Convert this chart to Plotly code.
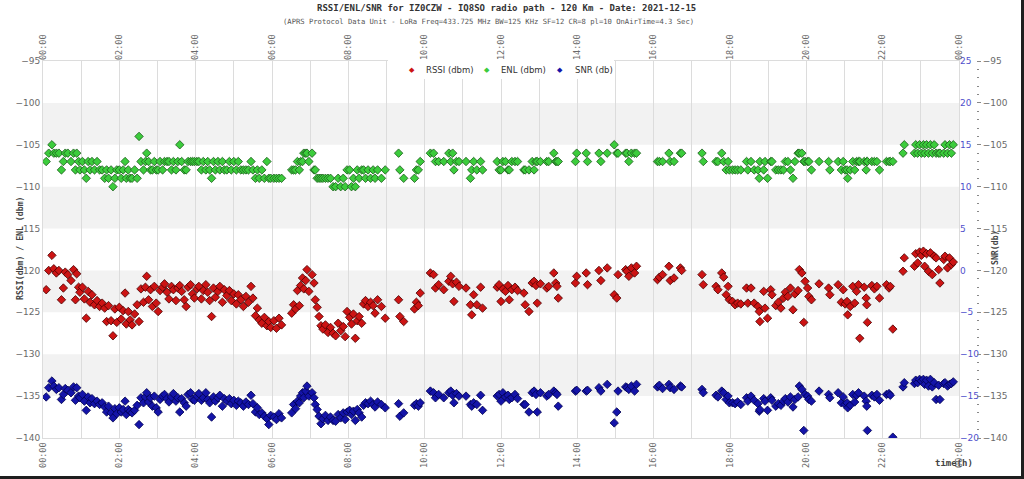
import plotly.graph_objects as go

DATE = "2021-12-15"
NEXT_DATE = "2021-12-16"

# packet reception times (HH:MM) and the three measured quantities per packet
packet_time = [
    "00:05","00:09","00:14","00:17","00:21","00:25","00:29","00:32","00:35","00:39","00:44","00:48","00:51","00:53","00:56","00:58",
    "01:02","01:05","01:08","01:11","01:14","01:17","01:21","01:25","01:29","01:33","01:37","01:40","01:43","01:47","01:50","01:53","01:56",
    "02:00","02:03","02:06","02:09","02:11","02:14","02:17","02:20","02:24","02:28","02:31","02:34","02:38","02:41","02:43","02:46","02:49","02:52","02:55","02:58",
    "03:01","03:04","03:08","03:11","03:15","03:18","03:22","03:25","03:29","03:32","03:35","03:38","03:42","03:45","03:48","03:52","03:55","03:58",
    "04:02","04:05","04:09","04:12","04:16","04:19","04:22","04:25","04:28","04:31","04:35","04:38","04:42","04:45","04:49","04:53","04:56",
    "05:00","05:04","05:07","05:11","05:15","05:19","05:23","05:27","05:30","05:34","05:37","05:40","05:44","05:48","05:52","05:55","05:58",
    "06:03","06:07","06:11","06:15","06:31","06:34","06:37","06:40","06:43","06:45","06:48","06:50","06:53","06:55","06:58",
    "07:03","07:06","07:08","07:11","07:14","07:17","07:20","07:24","07:28","07:32","07:36","07:40","07:44","07:48","07:52","07:55","07:58",
    "08:02","08:05","08:08","08:11","08:14","08:17","08:21","08:24","08:27","08:31","08:35","08:39","08:42","08:46","08:52","08:58",
    "09:19","09:21","09:27","09:44","09:47","09:50","09:53",
    "10:09","10:14","10:17","10:22","10:30","10:38","10:41","10:44","10:46","10:50","10:54",
    "11:05","11:12","11:14","11:17","11:22","11:28","11:31","11:54","11:57",
    "12:00","12:03","12:07","12:11","12:13","12:17","12:22","12:26","12:36","12:38","12:44","12:49","12:52","12:55","12:57",
    "13:02","13:12","13:15","13:23","13:26","13:28","13:30","13:57","13:59",
    "14:14","14:16","14:34","14:37","14:47","14:58",
    "15:02","15:04","15:16","15:18","15:21","15:25","15:30","15:33",
    "16:06","16:09","16:14","16:24","16:26","16:32","16:42","16:44",
    "17:16","17:18","17:38","17:41","17:47","17:50","17:54","17:57","17:59",
    "18:04","18:08","18:12","18:17","18:26","18:28","18:33","18:38","18:44","18:46","18:47","18:53","18:55","18:59",
    "19:04","19:06","19:12","19:16","19:20","19:24","19:27","19:31","19:35","19:39","19:42","19:47","19:49","19:53","19:56","19:58",
    "20:02","20:04","20:08","20:20","20:35","20:37","20:50","20:55","20:58",
    "21:01","21:04","21:05","21:09","21:13","21:16","21:19","21:22","21:24","21:31","21:34","21:35","21:36","21:43","21:47","21:51","21:55",
    "22:06","22:10","22:12","22:16","22:32","22:34","22:50","22:52","22:55","22:58",
    "23:01","23:04","23:06","23:09","23:12","23:15","23:18","23:21","23:24","23:28","23:30","23:36","23:38","23:42","23:45","23:48","23:51",
]

rssi_dbm = [
    -122.3,-120.0,-118.2,-119.8,-120.3,-120.0,-123.5,-122.1,-120.2,-120.5,-121.2,-119.9,-123.5,-120.4,-122.0,-122.6,
    -122.0,-123.4,-125.7,-122.5,-123.8,-122.9,-124.1,-123.6,-124.3,-123.9,-124.5,-126.1,-124.2,-126.0,-127.8,-124.6,-126.2,
    -124.4,-125.8,-124.8,-122.7,-126.4,-124.9,-125.9,-126.5,-125.2,-124.1,-126.1,-122.2,-123.8,-122.0,-120.7,-123.5,-122.3,-124.3,-121.9,-123.9,
    -124.9,-122.4,-122.0,-121.6,-122.6,-123.4,-121.9,-122.3,-123.6,-122.1,-121.8,-122.5,-123.5,-124.3,-122.0,-121.7,-122.8,-123.3,
    -122.2,-121.9,-123.4,-122.4,-121.7,-122.6,-123.6,-125.5,-122.1,-123.2,-122.5,-121.9,-123.8,-122.3,-123.0,-122.4,-123.6,
    -122.8,-124.0,-122.9,-123.5,-124.3,-123.1,-123.8,-121.9,-123.3,-125.4,-124.5,-125.9,-126.3,-125.6,-126.6,-126.1,-126.8,
    -126.0,-126.9,-125.7,-126.5,-125.1,-124.1,-124.6,-122.4,-124.2,-121.8,-120.9,-122.2,-121.2,-119.9,-122.5,
    -120.5,-121.5,-123.5,-124.4,-125.5,-126.6,-127.0,-126.5,-127.4,-126.8,-127.5,-127.8,-126.3,-127.2,-126.7,-127.9,-124.9,
    -125.6,-126.4,-125.2,-128.1,-126.0,-125.5,-126.3,-124.0,-123.6,-124.3,-123.8,-124.2,-125.1,-123.5,-124.3,-125.7,
    -123.5,-125.5,-126.1,-124.6,-123.8,-124.2,-122.7,
    -120.3,-120.5,-122.1,-121.7,-122.3,-121.3,-120.7,-121.6,-123.7,-121.4,-121.9,
    -122.1,-124.1,-125.3,-122.9,-124.1,-122.0,-124.5,-122.0,-121.7,
    -123.7,-122.2,-122.5,-121.8,-123.5,-122.3,-122.0,-122.4,-122.7,-124.1,-124.9,-121.5,-121.3,-121.8,-123.9,
    -121.6,-122.1,-121.9,-120.3,-121.5,-121.9,-123.3,-121.5,-120.7,
    -120.3,-121.7,-120.0,-121.2,-119.7,-122.9,
    -123.3,-120.5,-119.9,-120.1,-120.7,-119.7,-120.3,-119.5,
    -121.1,-120.8,-120.5,-119.5,-121.2,-120.9,-119.7,-120.0,
    -120.5,-121.7,-121.9,-122.3,-120.3,-120.8,-122.9,-121.9,-123.5,
    -123.7,-124.1,-123.9,-124.0,-122.1,-123.9,-122.1,-123.9,-124.3,-124.9,-126.1,-122.5,-124.5,-125.7,
    -122.3,-122.9,-124.2,-123.8,-124.5,-123.3,-122.6,-123.1,-122.1,-124.7,-122.8,-122.4,-119.9,-120.3,-126.2,-121.3,
    -122.1,-123.1,-123.5,-121.6,-122.1,-122.9,-121.7,-123.8,-122.3,
    -124.0,-123.7,-125.3,-124.3,-121.9,-123.9,-122.5,-121.7,-128.1,-122.0,-123.3,-124.1,-126.2,-121.8,-122.2,-121.9,-123.3,
    -121.7,-122.1,-121.9,-127.0,-120.1,-118.5,-119.5,-118.0,-119.1,-117.8,
    -118.2,-117.7,-119.5,-118.0,-120.1,-117.9,-120.5,-118.3,-118.5,-119.9,-121.5,-118.7,-118.3,-119.7,-118.5,-119.3,-119.0,
]

enl_dbm = [
    -107,-106,-105,-106,-106,-106,-108,-107,-106,-106,-107,-106,-108,-106,-107,-108,
    -107,-108,-109,-107,-108,-107,-108,-107,-108,-108,-109,-108,-109,-108,-110,-109,-108,
    -108,-109,-108,-107,-109,-108,-109,-109,-108,-109,-104,-107,-108,-107,-106,-107,-108,-108,-107,-108,
    -108,-107,-108,-107,-107,-107,-108,-107,-108,-107,-105,-107,-108,-108,-107,-107,-107,-107,
    -107,-107,-108,-107,-108,-107,-108,-109,-107,-108,-107,-108,-107,-108,-108,-107,-108,
    -107,-108,-107,-108,-108,-108,-108,-107,-108,-109,-108,-109,-108,-109,-107,-109,-109,
    -109,-109,-109,-109,-108,-108,-108,-107,-108,-107,-107,-106,-106,-106,-107,
    -106,-108,-108,-109,-109,-109,-109,-109,-109,-109,-110,-110,-109,-110,-109,-110,-108,
    -108,-110,-109,-110,-108,-109,-108,-108,-109,-108,-109,-108,-109,-108,-109,-108,
    -106,-108,-109,-109,-108,-108,-107,
    -106,-106,-107,-107,-107,-106,-107,-106,-108,-107,-107,
    -107,-109,-108,-107,-108,-107,-108,-107,-108,
    -108,-107,-107,-108,-108,-107,-107,-107,-108,-108,-108,-107,-108,-107,-107,
    -107,-107,-107,-106,-107,-107,-107,-107,-106,
    -106,-107,-106,-107,-106,-105,
    -106,-106,-106,-106,-107,-106,-106,-106,
    -107,-107,-107,-106,-107,-107,-106,-106,
    -106,-107,-107,-107,-106,-107,-108,-107,-108,
    -108,-108,-108,-108,-107,-108,-107,-108,-108,-109,-107,-108,-107,-109,
    -107,-107,-108,-108,-108,-108,-107,-107,-108,-109,-107,-106,-106,-106,-107,-107,
    -107,-107,-108,-107,-107,-108,-107,-108,-107,
    -108,-108,-109,-108,-107,-108,-107,-107,-107,-107,-108,-107,-107,-107,-107,-107,-108,
    -107,-107,-107,-107,-106,-105,-106,-105,-106,-105,
    -106,-105,-106,-105,-106,-105,-106,-105,-106,-106,-106,-106,-105,-106,-105,-106,-105,
]

snr_db = [
    -15.1,-14.0,-13.2,-13.8,-14.2,-14.0,-15.4,-14.8,-14.1,-14.3,-14.6,-13.9,-15.5,-14.0,-15.0,-15.2,
    -14.8,-15.6,-16.7,-15.1,-15.8,-15.3,-15.9,-15.6,-16.0,-15.8,-16.3,-16.9,-16.2,-17.0,-17.6,-16.5,-17.1,
    -16.4,-16.9,-16.6,-15.6,-17.2,-16.6,-16.8,-17.0,-16.7,-16.1,-18.4,-15.2,-15.8,-15.1,-14.6,-15.7,-15.2,-16.2,-15.0,-16.4,
    -16.9,-15.4,-15.0,-14.8,-15.3,-15.7,-15.1,-14.7,-15.6,-15.2,-16.9,-15.3,-15.8,-16.2,-14.8,-14.6,-15.4,-15.5,
    -15.0,-14.7,-15.5,-15.2,-14.6,-15.4,-15.8,-17.5,-15.1,-15.6,-15.2,-14.9,-16.2,-15.3,-15.6,-15.3,-15.9,
    -15.5,-16.1,-15.6,-15.8,-16.2,-15.7,-16.0,-14.9,-15.9,-16.9,-16.4,-17.2,-17.0,-17.4,-17.7,-18.4,-17.3,
    -17.5,-17.8,-17.1,-17.6,-17.0,-16.0,-16.5,-15.6,-15.8,-15.0,-14.6,-15.2,-14.4,-13.8,-15.0,
    -14.6,-15.2,-16.0,-16.6,-17.4,-18.3,-17.7,-17.3,-17.9,-17.5,-17.9,-18.0,-17.2,-17.6,-17.0,-17.8,-16.9,
    -16.7,-17.2,-16.8,-17.9,-16.6,-17.0,-17.5,-16.1,-15.8,-15.9,-15.6,-16.0,-16.3,-15.7,-16.0,-16.4,
    -15.9,-17.4,-17.0,-16.1,-15.9,-16.2,-15.8,
    -14.4,-14.6,-15.2,-14.8,-15.2,-14.6,-14.4,-14.9,-15.8,-14.7,-15.0,
    -15.0,-16.0,-16.2,-15.8,-16.0,-14.9,-16.7,-15.0,-14.8,
    -15.6,-14.6,-15.1,-14.9,-15.4,-15.2,-14.8,-15.3,-16.0,-16.0,-16.9,-14.6,-14.4,-14.8,-16.9,
    -14.6,-15.0,-14.8,-14.4,-14.6,-14.8,-16.2,-14.4,-14.3,
    -14.4,-14.3,-14.0,-14.4,-13.6,-18.2,
    -16.9,-14.4,-13.9,-14.0,-14.2,-13.8,-14.4,-13.6,
    -13.9,-13.7,-14.1,-13.6,-14.0,-14.2,-13.8,-13.9,
    -14.2,-14.6,-14.9,-15.1,-14.4,-14.6,-15.4,-15.0,-15.8,
    -15.8,-15.9,-15.7,-16.0,-15.2,-15.6,-15.0,-15.5,-15.9,-16.8,-16.6,-15.3,-15.6,-16.7,
    -15.2,-15.5,-16.2,-15.9,-16.1,-15.6,-15.3,-15.7,-15.1,-16.3,-15.4,-15.1,-13.8,-14.2,-19.1,-14.8,
    -15.0,-15.4,-15.6,-14.4,-14.8,-15.2,-14.6,-15.8,-15.1,
    -16.0,-15.8,-16.4,-16.1,-14.8,-15.7,-14.9,-14.6,-20.7,-15.0,-15.6,-16.2,-19.1,-14.9,-15.1,-14.8,-15.5,
    -14.8,-14.7,-14.9,-19.9,-13.9,-13.4,-13.5,-13.1,-13.4,-13.0,
    -13.2,-13.0,-13.6,-13.1,-13.8,-13.0,-13.9,-13.4,-15.4,-13.7,-15.4,-13.5,-13.4,-13.8,-13.6,-13.5,-13.3,
]

assert len(packet_time) == len(rssi_dbm) == len(enl_dbm) == len(snr_db)

series_names = ["RSSI (dbm)", "ENL (dbm)", "SNR (db)"]
dbm_range = [-140, -95]
snr_range = [-20, 25]

TITLE = "RSSI/ENL/SNR for IZ0CZW - IQ8SO radio path - 120 Km - Date: 2021-12-15"
SUBTITLE = "(APRS Protocol Data Unit - LoRa Freq=433.725 MHz BW=125 KHz SF=12 CR=8 pl=10 OnAirTime=4.3 Sec)"

# ---------------------------------------------------------------- layout geometry
W, H = 1024, 479
ML, MR, MT, MB = 43, 20, 61, 41
PW = W - ML - MR          # paper width
PH = H - MT - MB          # paper height
PLOT_W = 916              # plot area width in px
XDOM = PLOT_W / PW

def px_x(px):
    return (px - ML) / PW

def px_y(py):
    return (H - MB - py) / PH

MONO = "DejaVu Sans Mono"
SANS = "DejaVu Sans"

x_times = [f"{DATE} {t}" for t in packet_time]

RED, RED_EDGE = "#cc1414", "#4a0000"
GREEN, GREEN_EDGE = "#3ccc3c", "#1a5c1a"
BLUE, BLUE_EDGE = "#1414a8", "#000050"

fig = go.Figure()
fig.add_trace(go.Scatter(
    x=x_times, y=rssi_dbm, mode="markers", name=series_names[0], showlegend=False,
    marker=dict(symbol="diamond", size=6.5, color=RED, line=dict(color=RED_EDGE, width=0.8)),
))
fig.add_trace(go.Scatter(
    x=x_times, y=enl_dbm, mode="markers", name=series_names[1], showlegend=False,
    marker=dict(symbol="diamond", size=6.5, color=GREEN, line=dict(color=GREEN_EDGE, width=0.8)),
))
fig.add_trace(go.Scatter(
    x=x_times, y=snr_db, mode="markers", name=series_names[2], showlegend=False, yaxis="y2",
    marker=dict(symbol="diamond", size=6.5, color=BLUE, line=dict(color=BLUE_EDGE, width=0.8)),
))
# empty traces so the top time axis and the outer dBm axis are drawn
fig.add_trace(go.Scatter(x=[x_times[0]], y=[None], xaxis="x2", yaxis="y", mode="markers",
                         showlegend=False, hoverinfo="skip"))
fig.add_trace(go.Scatter(x=[x_times[0]], y=[None], xaxis="x", yaxis="y3", mode="markers",
                         showlegend=False, hoverinfo="skip"))

x_range = [f"{DATE} 00:00", f"{NEXT_DATE} 00:00"]
GRID = "#dcdcdc"
TICKGRAY = "#6a6a6a"

xcommon = dict(
    type="date", range=x_range, domain=[0, XDOM], tickformat="%H:%M",
    tick0=f"{DATE} 00:00", dtick=2 * 3600 * 1000, tickangle=-90,
    tickfont=dict(family=MONO, size=8.5, color=TICKGRAY), ticks="", zeroline=False,
)
fig.update_layout(
    width=W, height=H,
    margin=dict(l=ML, r=MR, t=MT, b=MB, pad=0),
    paper_bgcolor="white", plot_bgcolor="white",
    xaxis=dict(**xcommon, anchor="y", showgrid=True, gridcolor=GRID, gridwidth=1,
               minor=dict(dtick=3600 * 1000, showgrid=True, gridcolor=GRID, gridwidth=1),
               showline=True, linecolor=GRID, mirror=True),
    xaxis2=dict(**xcommon, anchor="y", overlaying="x", side="top", showgrid=False, showline=False),
    yaxis=dict(range=dbm_range, dtick=5, tick0=-140, showgrid=False, zeroline=False,
               showline=True, linecolor=GRID, mirror=True, ticks="",
               tickfont=dict(family=SANS, size=9, color=TICKGRAY)),
    yaxis2=dict(range=snr_range, dtick=5, tick0=-20, overlaying="y", side="right", anchor="x",
                showgrid=False, zeroline=False, showline=False, ticks="",
                tickfont=dict(family=SANS, size=9, color="#5050cc")),
    yaxis3=dict(range=dbm_range, dtick=5, tick0=-140, overlaying="y", side="right",
                anchor="free", position=px_x(976), showgrid=False, zeroline=False,
                showline=False, ticks="outside", ticklen=4, tickcolor="#888888", tickwidth=1,
                minor=dict(dtick=1, ticks="outside", ticklen=2, tickcolor="#888888", showgrid=False),
                tickfont=dict(family=SANS, size=9, color=TICKGRAY)),
    showlegend=False,
)

# alternating grey bands
shapes = []
for lo, hi in [(-105, -100), (-115, -110), (-125, -120), (-135, -130)]:
    shapes.append(dict(type="rect", xref="x domain", yref="y", x0=0, x1=1, y0=lo, y1=hi,
                       fillcolor="#f2f2f2", line=dict(width=0), layer="below"))
# legend box background
shapes.append(dict(type="rect", xref="paper", yref="paper",
                   x0=px_x(388), x1=px_x(614), y0=px_y(79), y1=px_y(60),
                   fillcolor="white", line=dict(width=0), layer="above"))
# screenshot frame (right and bottom)
shapes.append(dict(type="line", xref="paper", yref="paper", x0=px_x(1022.5), x1=px_x(1022.5),
                   y0=px_y(0), y1=px_y(479), line=dict(color="#1e1e1e", width=3)))
shapes.append(dict(type="line", xref="paper", yref="paper", x0=px_x(0), x1=px_x(1024),
                   y0=px_y(477.5), y1=px_y(477.5), line=dict(color="#1e1e1e", width=3)))
fig.update_layout(shapes=shapes)

ann = []
ann.append(dict(text=f"<b>{TITLE}</b>", xref="paper", yref="paper", x=px_x(506), y=px_y(8),
                showarrow=False, xanchor="center", yanchor="middle",
                font=dict(family=MONO, size=9, color="#333333")))
ann.append(dict(text=SUBTITLE, xref="paper", yref="paper", x=px_x(488), y=px_y(21),
                showarrow=False, xanchor="center", yanchor="middle",
                font=dict(family=MONO, size=7.2, color="#555555")))
ann.append(dict(text="<b>RSSI(dbm) / ENL (dbm)</b>", xref="paper", yref="paper",
                x=px_x(20), y=px_y(248), textangle=-90, showarrow=False,
                xanchor="center", yanchor="middle",
                font=dict(family=MONO, size=8.2, color="#444444")))
ann.append(dict(text="<b>SNR(db)</b>", xref="paper", yref="paper",
                x=px_x(995), y=px_y(248), textangle=-90, showarrow=False,
                xanchor="center", yanchor="middle",
                font=dict(family=MONO, size=8.2, color="#444444")))
ann.append(dict(text="<b>time(h)</b>", xref="paper", yref="paper",
                x=px_x(954), y=px_y(463), showarrow=False,
                xanchor="center", yanchor="middle",
                font=dict(family=MONO, size=9, color="#444444")))

# legend entries
leg_colors = [RED, GREEN, BLUE]
leg_sym_x = [412, 487, 560]
leg_txt_x = [424, 499, 573]
for name, col, sx, tx in zip(series_names, leg_colors, leg_sym_x, leg_txt_x):
    ann.append(dict(text="◆", xref="paper", yref="paper", x=px_x(sx), y=px_y(70),
                    showarrow=False, xanchor="center", yanchor="middle",
                    font=dict(family=SANS, size=7, color=col)))
    ann.append(dict(text=name, xref="paper", yref="paper", x=px_x(tx), y=px_y(70),
                    showarrow=False, xanchor="left", yanchor="middle",
                    font=dict(family=SANS, size=8.5, color="#333333")))
fig.update_layout(annotations=ann)

fig.write_html("out.html")
